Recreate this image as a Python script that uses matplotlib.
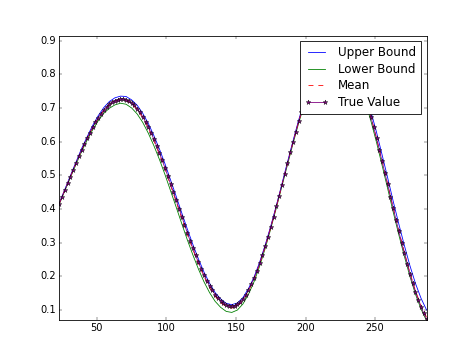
import numpy as np
import matplotlib
matplotlib.use('Agg')
import matplotlib.pyplot as plt

# sample positions for the bounds / mean (every 4 steps) and for the true value (every 2 steps)
x_vals = np.arange(23, 288, 4)
x_true = np.arange(23, 288, 2)

true_vals = [0.416, 0.436, 0.456, 0.476, 0.496, 0.517, 0.536, 0.556, 0.575, 0.593,
             0.610, 0.627, 0.643, 0.657, 0.671, 0.683, 0.694, 0.703, 0.711, 0.717,
             0.722, 0.725, 0.727, 0.727, 0.725, 0.721, 0.715, 0.708, 0.698, 0.687,
             0.674, 0.659, 0.643, 0.626, 0.607, 0.587, 0.566, 0.544, 0.522, 0.498,
             0.474, 0.450, 0.426, 0.401, 0.377, 0.353, 0.329, 0.306, 0.284, 0.262,
             0.242, 0.222, 0.204, 0.187, 0.172, 0.159, 0.146, 0.137, 0.128, 0.121,
             0.116, 0.113, 0.112, 0.113, 0.117, 0.124, 0.133, 0.145, 0.160, 0.176,
             0.195, 0.216, 0.239, 0.264, 0.290, 0.318, 0.347, 0.377, 0.408, 0.440,
             0.472, 0.504, 0.536, 0.568, 0.599, 0.630, 0.660, 0.688, 0.715, 0.741,
             0.765, 0.787, 0.807, 0.824, 0.840, 0.853, 0.865, 0.872, 0.877, 0.880,
             0.880, 0.877, 0.871, 0.862, 0.851, 0.837, 0.820, 0.801, 0.779, 0.756,
             0.730, 0.702, 0.673, 0.642, 0.610, 0.576, 0.542, 0.508, 0.473, 0.437,
             0.402, 0.368, 0.334, 0.300, 0.269, 0.237, 0.208, 0.180, 0.154, 0.131,
             0.109, 0.090, 0.073]

upper_vals = [0.418, 0.458, 0.499, 0.539, 0.579, 0.614, 0.648, 0.677, 0.701, 0.719, 0.730, 0.735,
              0.734, 0.724, 0.708, 0.684, 0.654, 0.618, 0.578, 0.534, 0.486, 0.438,
              0.389, 0.341, 0.295, 0.252, 0.213, 0.180, 0.152, 0.133, 0.120, 0.116,
              0.121, 0.137, 0.164, 0.198, 0.242, 0.293, 0.349, 0.410, 0.474, 0.539,
              0.602, 0.663, 0.719, 0.769, 0.811, 0.844, 0.869, 0.881,
              0.884, 0.877, 0.859, 0.830, 0.791, 0.744, 0.689, 0.628, 0.561, 0.493,
              0.423, 0.356, 0.292, 0.232, 0.179, 0.135, 0.100]

lower_vals = [0.414, 0.454, 0.493, 0.532, 0.570, 0.604, 0.635, 0.662, 0.684, 0.699, 0.709, 0.714,
              0.711, 0.700, 0.682, 0.657, 0.625, 0.588, 0.547, 0.502, 0.454, 0.406,
              0.357, 0.309, 0.264, 0.222, 0.184, 0.152, 0.126, 0.108, 0.096, 0.093,
              0.100, 0.118, 0.147, 0.184, 0.230, 0.283, 0.341, 0.403, 0.467, 0.531,
              0.594, 0.654, 0.709, 0.759, 0.801, 0.834, 0.859, 0.871,
              0.874, 0.863, 0.842, 0.810, 0.768, 0.718, 0.661, 0.598, 0.530, 0.461,
              0.391, 0.324, 0.260, 0.200, 0.147, 0.103, 0.068]

mean_vals = [0.416, 0.456, 0.496, 0.535, 0.574, 0.609, 0.641, 0.669, 0.692, 0.709, 0.720, 0.724,
             0.722, 0.712, 0.695, 0.671, 0.640, 0.603, 0.562, 0.518, 0.470, 0.422,
             0.373, 0.325, 0.280, 0.238, 0.200, 0.167, 0.141, 0.122, 0.110, 0.106,
             0.111, 0.128, 0.156, 0.192, 0.236, 0.287, 0.345, 0.406, 0.470, 0.535,
             0.598, 0.658, 0.713, 0.763, 0.805, 0.838, 0.863, 0.875,
             0.878, 0.869, 0.850, 0.819, 0.778, 0.729, 0.673, 0.610, 0.543, 0.474,
             0.404, 0.336, 0.272, 0.211, 0.157, 0.113, 0.078]

plt.style.use('classic')

fig = plt.figure(figsize=(8, 355 / 59.25), dpi=59.25)
ax = fig.add_subplot(111)

ax.plot(x_vals, upper_vals, 'b-', label='Upper Bound')
ax.plot(x_vals, lower_vals, 'g-', label='Lower Bound')
ax.plot(x_vals, mean_vals, 'r--', label='Mean')
ax.plot(x_true, true_vals, '-', color='purple', marker='*', markersize=6,
        markerfacecolor='purple', markeredgecolor='black', label='True Value')

ax.set_xlim(23, 287)
ax.set_ylim(0.072, 0.915)
ax.set_xticks([50, 100, 150, 200, 250])
ax.set_yticks([0.1, 0.2, 0.3, 0.4, 0.5, 0.6, 0.7, 0.8, 0.9])
ax.legend(loc='upper right', labelspacing=0.3)

fig.savefig('out.png', dpi=59.25, facecolor='white')
